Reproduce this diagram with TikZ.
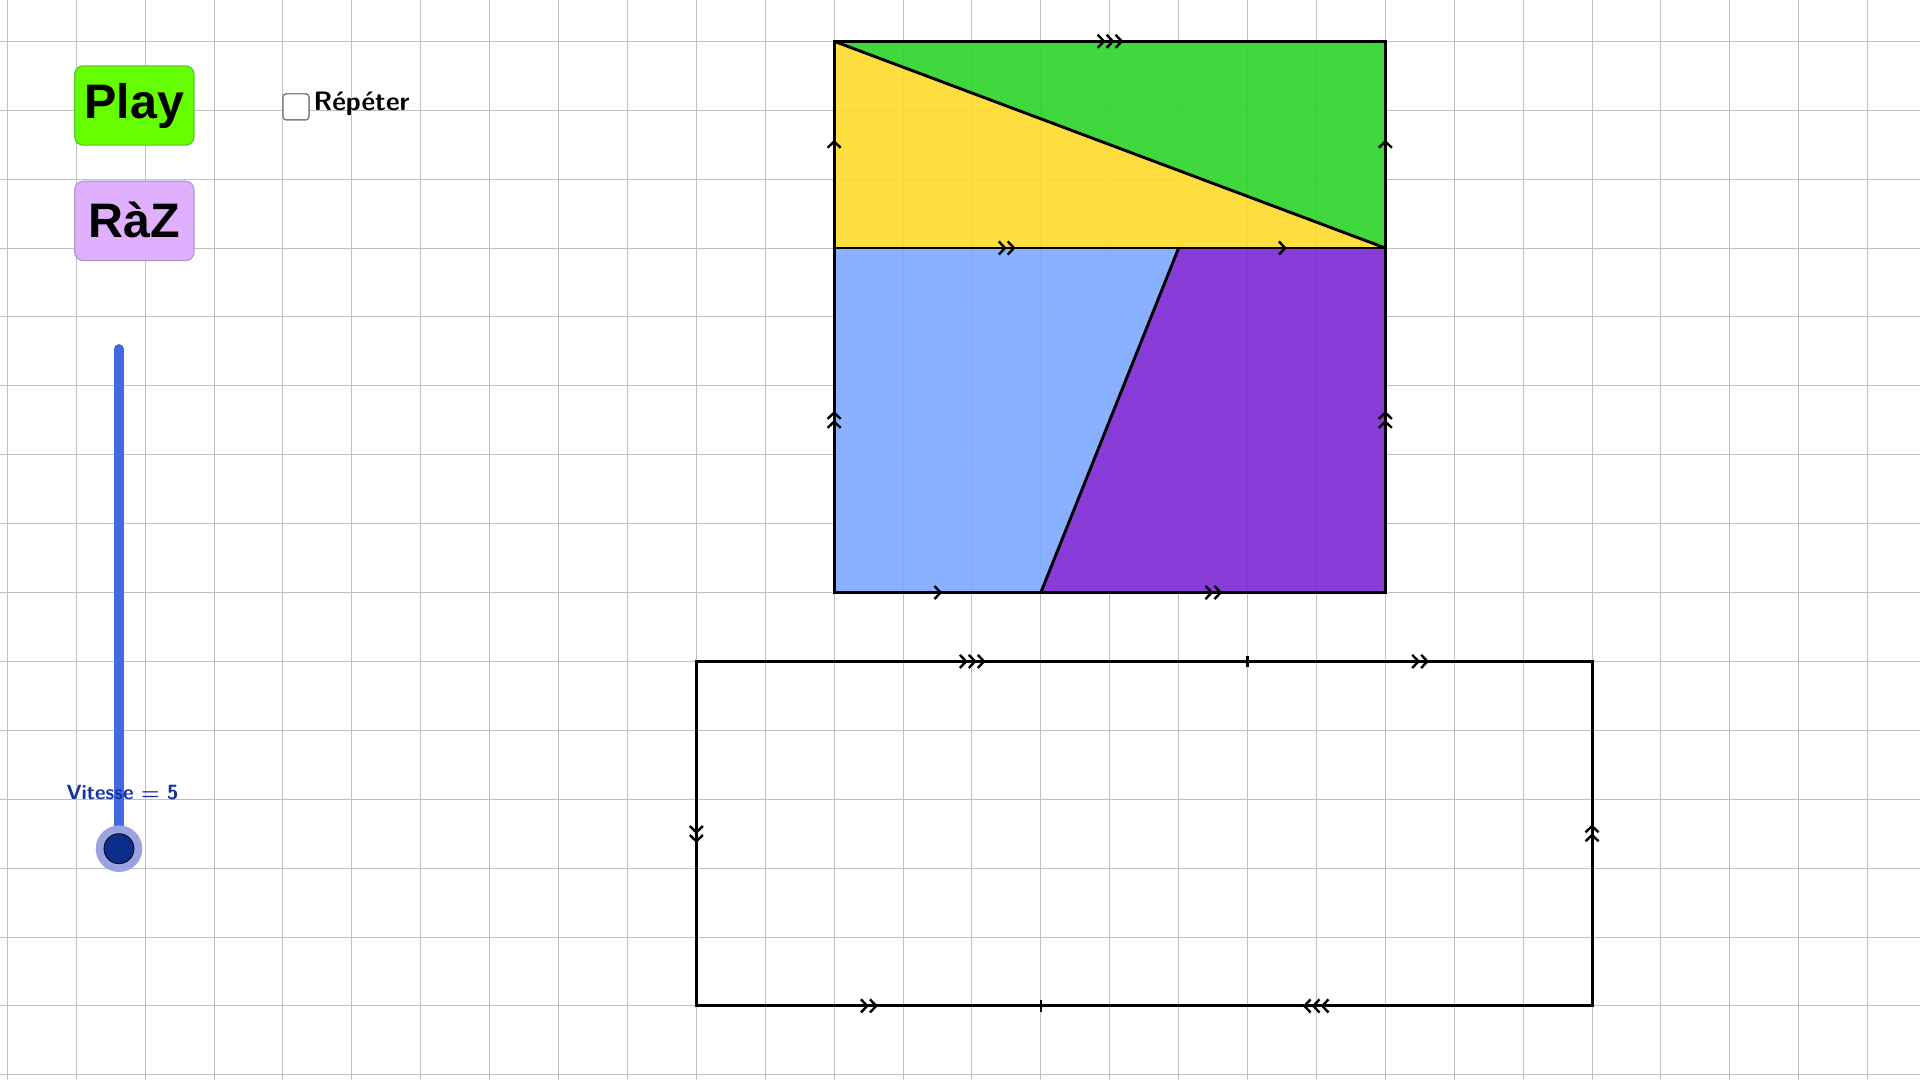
\documentclass[tikz,border=0pt]{standalone}
\usepackage{fontspec}
\newfontfamily\btnfont{Liberation Sans}
\usetikzlibrary{positioning}

\definecolor{gridgray}{RGB}{192,192,192}
\definecolor{piecegreen}{RGB}{43,213,43}
\definecolor{pieceyellow}{RGB}{255,219,43}
\definecolor{pieceblue}{RGB}{125,169,255}
\definecolor{piecepurple}{RGB}{125,40,212}
\definecolor{playgreen}{RGB}{102,255,0}
\definecolor{playborder}{RGB}{80,200,40}
\definecolor{razfill}{RGB}{224,176,255}
\definecolor{razborder}{RGB}{176,150,210}
\definecolor{sliderblue}{RGB}{65,105,225}
\definecolor{knobblue}{RGB}{13,45,140}
\definecolor{halo}{RGB}{155,162,225}
\definecolor{labelblue}{RGB}{20,50,160}

\tikzset{
  marker/.style={draw=black, line width=1pt, line join=miter},
  chevone/.pic={\draw[marker] (-0.045,0.095) -- (0.045,0) -- (-0.045,-0.095);},
  chevtwo/.pic={\foreach \dx in {-0.065,0.065}
    \draw[marker] (\dx-0.045,0.095) -- (\dx+0.045,0) -- (\dx-0.045,-0.095);},
  chevthree/.pic={\foreach \dx in {-0.13,0,0.13}
    \draw[marker] (\dx-0.045,0.095) -- (\dx+0.045,0) -- (\dx-0.045,-0.095);},
  tickmark/.pic={\draw[marker] (0,0.085) -- (0,-0.085);}
}

\begin{document}
\begin{tikzpicture}[gridline/.style={draw=gridgray, line width=0.4pt},
  edge/.style={draw=black, line width=1.2pt, line join=miter},
  piece/.style={fill opacity=0.9},
  button/.style={draw, line width=0.5pt, rounded corners=0.12cm, minimum width=1.73cm, minimum height=1.15cm, inner sep=0pt, font=\btnfont\bfseries\fontsize{20}{24}\selectfont},
  checkbox/.style={draw=gray, fill=white, line width=0.6pt, rounded corners=0.05cm, minimum size=0.38cm, inner sep=0pt},
  knob/.style={circle, draw=black, line width=0.3pt, fill=knobblue, minimum size=0.436cm, inner sep=0pt}]
\useasboundingbox (-0.106,0.5994) rectangle (27.760,-15.076);
\fill[white] (-0.106,0.5994) rectangle (27.760,-15.076);
\draw[gridline, step=1] (-0.106,0.5994) grid (27.760,-15.076);

% buttons
\node[button, fill=playgreen, draw=playborder] (play) at (1.844,-0.932) {Play};
\node[button, fill=razfill, draw=razborder, below=0.508cm of play] (raz) {\raisebox{0.04cm}{RàZ}};
\node[checkbox] (box) at (4.19,-0.951) {};
\node[anchor=base west, xshift=-0.07cm, yshift=-0.05cm, font=\sffamily\bfseries\fontsize{11}{13}\selectfont] (rep) at (box.east) {Répéter};

% slider
\coordinate (slidetop) at (1.621,-4.466);
\coordinate (slidebot) at (1.621,-11.718);
\draw[sliderblue, line width=4.1pt, line cap=round] (slidetop) -- (slidebot);
\fill[halo] (slidebot) circle (0.338);
\node[knob] (knob) at (slidebot) {};
\node[anchor=base, text=labelblue, font=\sffamily\bfseries\fontsize{8.5}{10}\selectfont] (vit) at (1.672,-11.0) {Vitesse {\boldmath$=$} 5};

% square 8x8
\coordinate (A) at (12,0);
\coordinate (B) at (20,0);
\coordinate (C) at (20,-3);
\coordinate (D) at (12,-3);
\coordinate (E) at (17,-3);
\coordinate (F) at (20,-8);
\coordinate (G) at (15,-8);
\coordinate (H) at (12,-8);
\fill[piece, piecegreen] (A) -- (B) -- (C) -- cycle;
\fill[piece, pieceyellow] (A) -- (C) -- (D) -- cycle;
\fill[piece, pieceblue] (D) -- (E) -- (G) -- (H) -- cycle;
\fill[piece, piecepurple] (E) -- (C) -- (F) -- (G) -- cycle;
\draw[edge] (A) rectangle (F);
\draw[edge] (D) -- (C);
\draw[edge] (A) -- (C);
\draw[edge] (E) -- (G);

\pic at (16,0) {chevthree};
\pic[rotate=90] at (12,-1.5) {chevone};
\pic[rotate=90] at (20,-1.5) {chevone};
\pic at (14.5,-3) {chevtwo};
\pic at (18.5,-3) {chevone};
\pic[rotate=90] at (12,-5.5) {chevtwo};
\pic[rotate=90] at (20,-5.5) {chevtwo};
\pic at (13.5,-8) {chevone};
\pic at (17.5,-8) {chevtwo};

% rectangle 13x5
\coordinate (P) at (10,-9);
\coordinate (Q) at (23,-14);
\draw[edge] (P) rectangle (Q);

\pic at (14,-9) {chevthree};
\pic at (18,-9) {tickmark};
\pic at (20.5,-9) {chevtwo};
\pic[rotate=-90] at (10,-11.5) {chevtwo};
\pic[rotate=90] at (23,-11.5) {chevtwo};
\pic at (12.5,-14) {chevtwo};
\pic at (15,-14) {tickmark};
\pic[rotate=180] at (19,-14) {chevthree};
\end{tikzpicture}
\end{document}
